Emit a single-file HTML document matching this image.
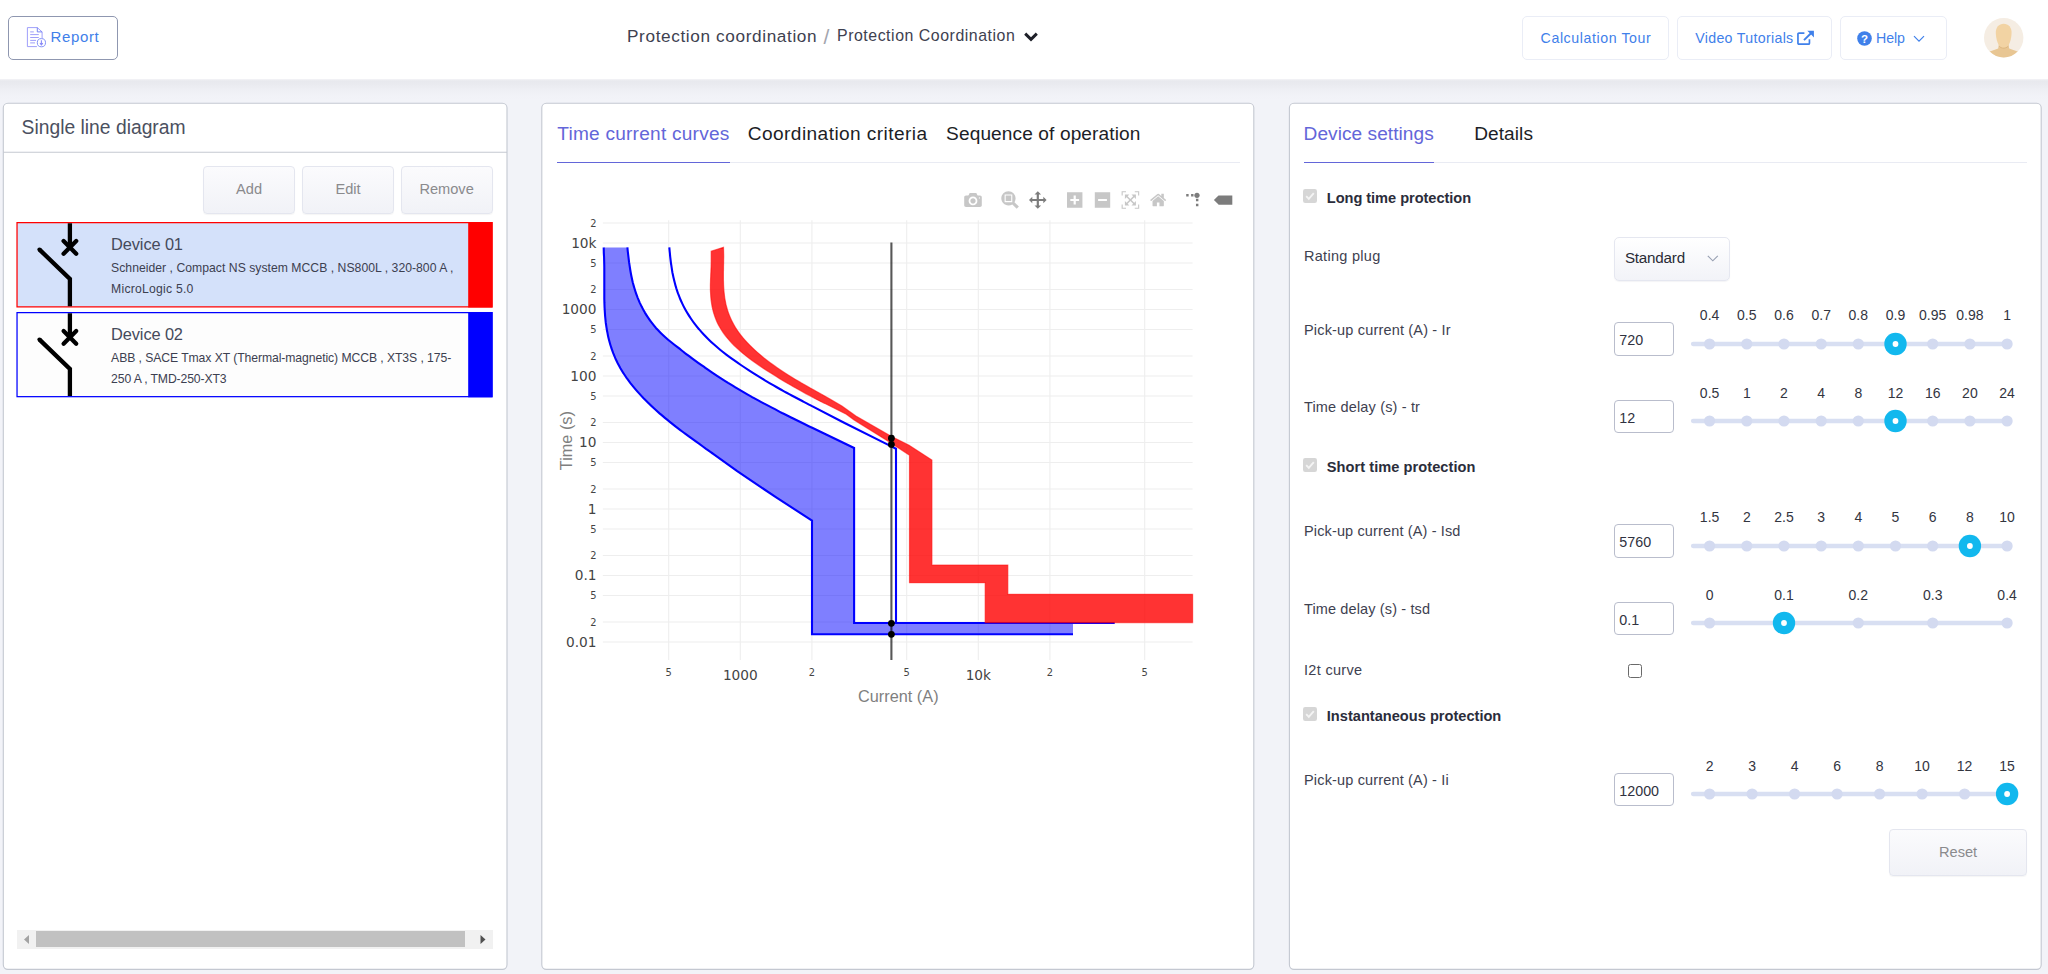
<!DOCTYPE html>
<html lang="en"><head><meta charset="utf-8"><title>Protection coordination</title>
<style>
*{box-sizing:border-box;margin:0;padding:0}
html,body{width:2048px;height:974px;overflow:hidden}
body{position:relative;background:#f2f3f8;font-family:"Liberation Sans",sans-serif;}
.t{position:absolute;white-space:nowrap;line-height:1;}
svg{display:block;overflow:visible}
</style></head>
<body>
<div style="position:absolute;left:0.0px;top:0.0px;width:2048.0px;height:79.2px;background:#fff;"></div>
<div style="position:absolute;left:0.0px;top:79.2px;width:2048.0px;height:20.8px;background:linear-gradient(#f4f4f7 0%,#e8e9ee 9%,#e9eaef 22%,#eeeff4 50%,#f1f2f7 78%,#f2f3f8 100%);"></div>
<div style="position:absolute;left:8.0px;top:16.0px;width:109.5px;height:44.0px;border:1px solid #8f97b0;border-radius:5px;background:#fff;"></div>
<svg style="position:absolute;left:26px;top:26px" width="22" height="22" viewBox="0 0 22 22"><g fill="none" stroke="#9a9afa" stroke-width="0.95"><path d="M10.9 20.6 H1.4 V1.6 H11.3 L16.1 5.9 V12.3"/><path d="M11.3 1.6 V5.9 H16.1" stroke="#6f7df3"/><path d="M4.2 5.9H7.8 M4.2 8.6H12.8 M4.2 11.5H12.8 M4.2 14.4H10 M4.2 16.9H9" stroke="#9a9af9"/><circle cx="15.4" cy="16.7" r="4.1" stroke="#7d8cf6" fill="#fff"/><path d="M15.4 14.3V18.6 M14 17.2L15.4 18.9L16.8 17.2" stroke="#8b8bf8" stroke-width="1.1"/></g></svg>
<span class="t" style="left:50.4px;top:29.0px;font-size:15.0px;color:#3f80ea;letter-spacing:0.674px;">Report</span>
<span class="t" style="left:627.0px;top:28.0px;font-size:17.2px;color:#3e4150;letter-spacing:0.627px;">Protection coordination</span>
<span class="t" style="left:823.6px;top:25.8px;font-size:21px;color:#a3a5ae;">/</span>
<span class="t" style="left:837.0px;top:28.2px;font-size:15.9px;color:#3e4150;letter-spacing:0.533px;">Protection Coordination</span>
<svg style="position:absolute;left:1023px;top:31px" width="16" height="12" viewBox="0 0 16 12"><path d="M2.2 2.6 L8 8.4 L13.8 2.6" fill="none" stroke="#1e2029" stroke-width="2.9"/></svg>
<div style="position:absolute;left:1522.4px;top:16.0px;width:146.4px;height:43.7px;border:1px solid #eaedf6;border-radius:5px;background:#fff;"></div>
<div style="position:absolute;left:1677.4px;top:16.0px;width:154.8px;height:43.7px;border:1px solid #eaedf6;border-radius:5px;background:#fff;"></div>
<div style="position:absolute;left:1840.3px;top:16.0px;width:106.3px;height:43.7px;border:1px solid #eaedf6;border-radius:5px;background:#fff;"></div>
<span class="t" style="left:1540.6px;top:30.5px;font-size:14.2px;color:#3f80ea;letter-spacing:0.581px;">Calculation Tour</span>
<span class="t" style="left:1695.2px;top:30.5px;font-size:14.2px;color:#3f80ea;letter-spacing:0.315px;">Video Tutorials</span>
<svg style="position:absolute;left:1797px;top:29.5px" width="18" height="16" viewBox="0 0 18 16"><g fill="none" stroke="#3f80ea" stroke-width="1.7"><path d="M12.45 9.2V13.15a1 1 0 0 1-1 1H1.95a1 1 0 0 1-1-1V4.05a1 1 0 0 1 1-1H7.4"/><path d="M7 10.1L15.3 2" stroke-width="2"/></g><path d="M10.3 .8H16.9V7.4L14.6 5.1 12.6 3.1Z" fill="#3f80ea"/></svg>
<svg style="position:absolute;left:1857.4px;top:30.9px" width="15" height="15" viewBox="0 0 15 15"><circle cx="7.5" cy="7.5" r="7.3" fill="#3f80ea"/><text x="7.5" y="11.6" text-anchor="middle" font-family="'Liberation Sans',sans-serif" font-weight="700" font-size="11.5" fill="#fff">?</text></svg>
<span class="t" style="left:1876.0px;top:30.5px;font-size:14.2px;color:#3f80ea;letter-spacing:-0.062px;">Help</span>
<svg style="position:absolute;left:1912.5px;top:34.5px" width="12" height="8" viewBox="0 0 12 8"><path d="M1 1.2 L6 6.2 L11 1.2" fill="none" stroke="#3f80ea" stroke-width="1.2"/></svg>
<svg style="position:absolute;left:1983.9px;top:17.7px" width="39.4" height="39.4" viewBox="0 0 39.4 39.4"><defs><clipPath id="avc"><circle cx="19.7" cy="19.7" r="19.7"/></clipPath></defs><circle cx="19.7" cy="19.7" r="19.7" fill="#f5ede3"/><g clip-path="url(#avc)"><path d="M1 35.2L14.2 30.6 14.9 26H24.5L25.2 30.600 38.4 35.2V41H1Z" fill="#e8c693"/><path d="M15.3 28.2c1.300 1.300 2.800 1.900 4.400 1.900s3.100-.6 4.400-1.900" fill="none" stroke="#d9b27c" stroke-width="0.9"/><path d="M19.700 5.700C24.500 5.700 27.800 9.400 27.600 15 27.400 20.400 26.300 24.300 24.500 27.200 23.400 28.700 21.500 29.500 19.700 29.500 17.900 29.500 16 28.700 14.900 27.200 13.100 24.300 12 20.400 11.800 15 11.600 9.400 14.900 5.700 19.700 5.700Z" fill="#f2d3a3"/></g></svg>
<svg style="position:absolute;left:0;top:0" width="2048" height="974" viewBox="0 0 2048 974"><g fill="#fff" stroke="#c4c8d1" stroke-width="1.1"><rect x="3.3" y="103.2" width="503.7" height="866.2" rx="4.6"/><rect x="541.8" y="103.2" width="712.0" height="866.2" rx="4.6"/><rect x="1289.4" y="103.2" width="751.8" height="866.2" rx="4.6"/><path d="M3.3 152.2H507" fill="none"/></g></svg>
<span class="t" style="left:21.6px;top:117.7px;font-size:19.3px;color:#4b5060;">Single line diagram</span>
<div style="position:absolute;left:203.1px;top:166.2px;width:92.0px;height:47.5px;border:1px solid #e4e6ef;border-radius:4px;background:linear-gradient(#fbfbfd,#f1f2f7);box-shadow:0 1px 1px rgba(0,0,0,.04);"></div>
<span class="t" style="left:249.1px;top:182.1px;font-size:14.6px;color:#8a8a8d;transform:translateX(-50%);">Add</span>
<div style="position:absolute;left:302.2px;top:166.2px;width:91.9px;height:47.5px;border:1px solid #e4e6ef;border-radius:4px;background:linear-gradient(#fbfbfd,#f1f2f7);box-shadow:0 1px 1px rgba(0,0,0,.04);"></div>
<span class="t" style="left:348.1px;top:182.1px;font-size:14.6px;color:#8a8a8d;transform:translateX(-50%);">Edit</span>
<div style="position:absolute;left:400.5px;top:166.2px;width:92.1px;height:47.5px;border:1px solid #e4e6ef;border-radius:4px;background:linear-gradient(#fbfbfd,#f1f2f7);box-shadow:0 1px 1px rgba(0,0,0,.04);"></div>
<span class="t" style="left:446.6px;top:182.1px;font-size:14.6px;color:#8a8a8d;transform:translateX(-50%);">Remove</span>
<svg style="position:absolute;left:10px;top:217.9px" width="490" height="93.5" viewBox="10 217.9 490 93.5"><rect x="17.025" y="222.53" width="474.95" height="84.25" fill="#d4e1fa" stroke="#ff0000" stroke-width="1.25"/><rect x="468.2" y="221.90" width="24.40" height="85.50" fill="#ff0000"/><g stroke="#000" stroke-width="4.3" fill="none"><path d="M69.9 223.15 V247.30"/><path stroke-linecap="round" d="M63.60000000000001 241.00 L76.2 253.60 M76.2 241.00 L63.60000000000001 253.60"/><path stroke-linejoin="miter" stroke-miterlimit="10" d="M39.50000000000001 249.50 L69.9 278.90 V306.15"/><circle cx="39.50000000000001" cy="249.50" r="2.15" fill="#000" stroke="none"/></g></svg><span class="t" style="left:111.1px;top:235.7px;font-size:16.4px;color:#454a5b;letter-spacing:-0.124px;">Device 01</span><span class="t" style="left:111.1px;top:261.9px;font-size:12.2px;color:#3c4050;letter-spacing:0.026px;">Schneider , Compact NS system MCCB , NS800L , 320-800 A ,</span><span class="t" style="left:111.1px;top:282.9px;font-size:12.2px;color:#3c4050;letter-spacing:0.226px;">MicroLogic 5.0</span>
<svg style="position:absolute;left:10px;top:307.9px" width="490" height="93.3" viewBox="10 307.9 490 93.3"><rect x="17.025" y="312.52" width="474.95" height="84.05" fill="#fdfdfd" stroke="#0000ff" stroke-width="1.25"/><rect x="468.2" y="311.90" width="24.40" height="85.30" fill="#0000ff"/><g stroke="#000" stroke-width="4.3" fill="none"><path d="M69.9 313.15 V337.30"/><path stroke-linecap="round" d="M63.60000000000001 331.00 L76.2 343.60 M76.2 331.00 L63.60000000000001 343.60"/><path stroke-linejoin="miter" stroke-miterlimit="10" d="M39.50000000000001 339.50 L69.9 368.90 V395.95"/><circle cx="39.50000000000001" cy="339.50" r="2.15" fill="#000" stroke="none"/></g></svg><span class="t" style="left:111.1px;top:325.7px;font-size:16.4px;color:#454a5b;letter-spacing:-0.124px;">Device 02</span><span class="t" style="left:111.1px;top:351.9px;font-size:12.2px;color:#3c4050;letter-spacing:-0.076px;">ABB , SACE Tmax XT (Thermal-magnetic) MCCB , XT3S , 175-</span><span class="t" style="left:111.1px;top:372.9px;font-size:12.2px;color:#3c4050;letter-spacing:-0.125px;">250 A , TMD-250-XT3</span>
<div style="position:absolute;left:17.0px;top:929.8px;width:475.7px;height:19.1px;background:#f1f1f1;"></div>
<div style="position:absolute;left:36.1px;top:931.4px;width:428.8px;height:15.6px;background:#c1c1c1;"></div>
<svg style="position:absolute;left:17px;top:929.8px" width="476" height="19" viewBox="0 0 476 19"><path d="M12 5 L7 9.5 L12 14Z" fill="#a3a3a3"/><path d="M463.5 5 L468.5 9.5 L463.5 14Z" fill="#505050"/></svg>
<span class="t" style="left:557.3px;top:123.7px;font-size:19.1px;color:#6366d9;letter-spacing:0.222px;">Time current curves</span>
<span class="t" style="left:747.8px;top:123.7px;font-size:19.1px;color:#1c1e26;letter-spacing:0.421px;">Coordination criteria</span>
<span class="t" style="left:946.1px;top:123.7px;font-size:19.1px;color:#1c1e26;letter-spacing:0.107px;">Sequence of operation</span>
<div style="position:absolute;left:556.7px;top:162.0px;width:683.3px;height:1.0px;background:#e9ebf3;"></div>
<div style="position:absolute;left:557.0px;top:161.6px;width:172.5px;height:1.4px;background:#6366d9;"></div>
<svg style="position:absolute;left:543px;top:170px" width="710" height="560" viewBox="543 170 710 560"><path d="M602.8 642.0H1192.6M602.8 622.0H1192.6M602.8 595.5H1192.6M602.8 575.5H1192.6M602.8 555.5H1192.6M602.8 529.0H1192.6M602.8 509.0H1192.6M602.8 489.0H1192.6M602.8 462.5H1192.6M602.8 442.5H1192.6M602.8 422.5H1192.6M602.8 396.0H1192.6M602.8 376.0H1192.6M602.8 356.0H1192.6M602.8 329.5H1192.6M602.8 309.5H1192.6M602.8 289.5H1192.6M602.8 263.0H1192.6M602.8 243.0H1192.6M602.8 223.0H1192.6M668.7 220.3V660.0M740.3 220.3V660.0M811.9 220.3V660.0M906.7 220.3V660.0M978.3 220.3V660.0M1049.9 220.3V660.0M1144.7 220.3V660.0" stroke="#eeeeee" stroke-width="1.1" fill="none"/><path d="M603.7 247.6C603.7 248.4 603.8 251.0 603.8 252.6C603.9 254.3 604.0 256.0 604.1 257.7C604.1 259.3 604.2 261.0 604.2 262.7C604.3 264.4 604.3 266.0 604.3 267.7C604.3 269.4 604.3 271.1 604.3 272.7C604.3 274.4 604.3 276.1 604.3 277.8C604.3 279.5 604.3 281.1 604.3 282.8C604.3 284.5 604.3 286.2 604.3 287.8C604.3 289.5 604.3 291.2 604.3 292.9C604.3 294.5 604.3 296.2 604.3 297.9C604.3 299.6 604.4 301.2 604.4 302.9C604.5 304.6 604.5 306.3 604.6 308.0C604.7 309.6 604.8 311.3 604.9 313.0C605.0 314.7 605.1 316.3 605.3 318.0C605.5 319.7 605.6 321.4 605.8 323.0C606.1 324.7 606.3 326.4 606.6 328.1C606.8 329.7 607.1 331.4 607.5 333.1C607.8 334.8 608.1 336.5 608.5 338.1C608.9 339.8 609.4 341.5 609.9 343.2C610.3 344.8 610.9 346.5 611.4 348.2C612.0 349.9 612.6 351.5 613.2 353.2C613.9 354.9 614.6 356.6 615.3 358.2C616.1 359.9 616.9 361.6 617.7 363.3C618.6 364.9 619.5 366.6 620.4 368.3C621.4 370.0 622.4 371.7 623.5 373.3C624.6 375.0 625.7 376.7 626.9 378.4C628.1 380.0 629.3 381.7 630.6 383.4C632.0 385.1 633.3 386.7 634.7 388.4C636.1 390.1 637.6 391.8 639.1 393.4C640.6 395.1 642.2 396.8 643.8 398.5C645.5 400.2 647.2 401.8 648.9 403.5C650.6 405.2 652.4 406.9 654.2 408.5C656.0 410.2 657.9 411.9 659.8 413.6C661.8 415.2 663.7 416.9 665.8 418.6C667.8 420.3 669.9 421.9 672.0 423.6C674.1 425.3 676.2 427.0 678.4 428.7C680.6 430.3 682.8 432.0 685.1 433.7C687.4 435.4 689.6 437.0 692.0 438.7C694.3 440.4 696.6 442.1 699.0 443.7C701.3 445.4 703.7 447.1 706.0 448.8C708.4 450.4 712.0 453.0 713.2 453.8L737.2 471.2L776.2 497.4L812.0 520.6L812.0 634.3L1073.0 634.3L1073.0 623.0L854.1 623.0L854.1 448.0L826.2 434.5L812.7 428.0C810.9 427.2 805.8 424.7 802.4 423.0C798.9 421.3 795.5 419.6 792.2 418.0C788.8 416.3 785.5 414.6 782.1 413.0C778.8 411.3 775.6 409.6 772.4 407.9C769.1 406.3 766.0 404.6 762.8 402.9C759.7 401.2 756.6 399.6 753.6 397.9C750.6 396.2 747.7 394.6 744.8 392.9C741.9 391.2 739.0 389.5 736.3 387.9C733.5 386.2 730.8 384.5 728.1 382.9C725.4 381.2 722.8 379.5 720.2 377.8C717.6 376.2 715.1 374.5 712.6 372.8C710.1 371.1 707.7 369.5 705.3 367.8C702.9 366.1 700.5 364.5 698.2 362.8C695.9 361.1 693.6 359.4 691.4 357.8C689.1 356.1 686.9 354.4 684.7 352.8C682.5 351.1 680.4 349.4 678.2 347.7C676.1 346.1 673.9 344.4 671.9 342.7C669.8 341.0 667.8 339.4 665.9 337.7C664.0 336.0 662.2 334.4 660.5 332.7C658.8 331.0 657.3 329.3 655.8 327.7C654.3 326.0 653.0 324.3 651.7 322.6C650.4 321.0 649.2 319.3 648.1 317.6C647.0 316.0 645.9 314.3 644.9 312.6C644.0 310.9 643.0 309.3 642.2 307.6C641.3 305.9 640.5 304.3 639.7 302.6C639.0 300.9 638.3 299.2 637.6 297.6C637.0 295.9 636.3 294.2 635.8 292.6C635.2 290.9 634.7 289.2 634.2 287.5C633.7 285.9 633.3 284.2 632.8 282.5C632.4 280.8 632.0 279.2 631.7 277.5C631.3 275.8 631.0 274.2 630.7 272.5C630.4 270.8 630.1 269.1 629.9 267.5C629.6 265.8 629.4 264.1 629.1 262.4C628.9 260.8 628.7 259.1 628.5 257.4C628.3 255.8 628.1 254.1 627.9 252.4C627.7 250.7 627.5 248.2 627.4 247.4Z" fill="rgba(0,0,255,0.5)" stroke="none"/><path d="M603.7 247.6C603.7 248.4 603.8 251.0 603.8 252.6C603.9 254.3 604.0 256.0 604.1 257.7C604.1 259.3 604.2 261.0 604.2 262.7C604.3 264.4 604.3 266.0 604.3 267.7C604.3 269.4 604.3 271.1 604.3 272.7C604.3 274.4 604.3 276.1 604.3 277.8C604.3 279.5 604.3 281.1 604.3 282.8C604.3 284.5 604.3 286.2 604.3 287.8C604.3 289.5 604.3 291.2 604.3 292.9C604.3 294.5 604.3 296.2 604.3 297.9C604.3 299.6 604.4 301.2 604.4 302.9C604.5 304.6 604.5 306.3 604.6 308.0C604.7 309.6 604.8 311.3 604.9 313.0C605.0 314.7 605.1 316.3 605.3 318.0C605.5 319.7 605.6 321.4 605.8 323.0C606.1 324.7 606.3 326.4 606.6 328.1C606.8 329.7 607.1 331.4 607.5 333.1C607.8 334.8 608.1 336.5 608.5 338.1C608.9 339.8 609.4 341.5 609.9 343.2C610.3 344.8 610.9 346.5 611.4 348.2C612.0 349.9 612.6 351.5 613.2 353.2C613.9 354.9 614.6 356.6 615.3 358.2C616.1 359.9 616.9 361.6 617.7 363.3C618.6 364.9 619.5 366.6 620.4 368.3C621.4 370.0 622.4 371.7 623.5 373.3C624.6 375.0 625.7 376.7 626.9 378.4C628.1 380.0 629.3 381.7 630.6 383.4C632.0 385.1 633.3 386.7 634.7 388.4C636.1 390.1 637.6 391.8 639.1 393.4C640.6 395.1 642.2 396.8 643.8 398.5C645.5 400.2 647.2 401.8 648.9 403.5C650.6 405.2 652.4 406.9 654.2 408.5C656.0 410.2 657.9 411.9 659.8 413.6C661.8 415.2 663.7 416.9 665.8 418.6C667.8 420.3 669.9 421.9 672.0 423.6C674.1 425.3 676.2 427.0 678.4 428.7C680.6 430.3 682.8 432.0 685.1 433.7C687.4 435.4 689.6 437.0 692.0 438.7C694.3 440.4 696.6 442.1 699.0 443.7C701.3 445.4 703.7 447.1 706.0 448.8C708.4 450.4 712.0 453.0 713.2 453.8L737.2 471.2L776.2 497.4L812.0 520.6L812.0 634.3L1073.0 634.3" fill="none" stroke="#0000ff" stroke-width="2.1" stroke-linejoin="miter"/><path d="M627.4 247.4C627.5 248.2 627.7 250.7 627.9 252.4C628.1 254.1 628.3 255.8 628.5 257.4C628.7 259.1 628.9 260.8 629.1 262.4C629.4 264.1 629.6 265.8 629.9 267.5C630.1 269.1 630.4 270.8 630.7 272.5C631.0 274.2 631.3 275.8 631.7 277.5C632.0 279.2 632.4 280.8 632.8 282.5C633.3 284.2 633.7 285.9 634.2 287.5C634.7 289.2 635.2 290.9 635.8 292.6C636.3 294.2 637.0 295.9 637.6 297.6C638.3 299.2 639.0 300.9 639.7 302.6C640.5 304.3 641.3 305.9 642.2 307.6C643.0 309.3 644.0 310.9 644.9 312.6C645.9 314.3 647.0 316.0 648.1 317.6C649.2 319.3 650.4 321.0 651.7 322.6C653.0 324.3 654.3 326.0 655.8 327.7C657.3 329.3 658.8 331.0 660.5 332.7C662.2 334.4 664.0 336.0 665.9 337.7C667.8 339.4 669.8 341.0 671.9 342.7C673.9 344.4 676.1 346.1 678.2 347.7C680.4 349.4 682.5 351.1 684.7 352.8C686.9 354.4 689.1 356.1 691.4 357.8C693.6 359.4 695.9 361.1 698.2 362.8C700.5 364.5 702.9 366.1 705.3 367.8C707.7 369.5 710.1 371.1 712.6 372.8C715.1 374.5 717.6 376.2 720.2 377.8C722.8 379.5 725.4 381.2 728.1 382.9C730.8 384.5 733.5 386.2 736.3 387.9C739.0 389.5 741.9 391.2 744.8 392.9C747.7 394.6 750.6 396.2 753.6 397.9C756.6 399.6 759.7 401.2 762.8 402.9C766.0 404.6 769.1 406.3 772.4 407.9C775.6 409.6 778.8 411.3 782.1 413.0C785.5 414.6 788.8 416.3 792.2 418.0C795.5 419.6 798.9 421.3 802.4 423.0C805.8 424.7 810.9 427.2 812.7 428.0L826.2 434.5L854.1 448.0L854.1 623.0L1073.0 623.0" fill="none" stroke="#0000ff" stroke-width="2.1"/><path d="M669.3 247.4C669.4 248.3 669.6 250.8 669.8 252.5C670.0 254.2 670.1 255.9 670.3 257.6C670.5 259.3 670.7 261.0 670.9 262.7C671.2 264.4 671.4 266.1 671.7 267.9C671.9 269.6 672.2 271.3 672.5 273.0C672.9 274.7 673.2 276.4 673.6 278.1C674.0 279.8 674.4 281.5 674.9 283.2C675.3 284.9 675.8 286.6 676.3 288.3C676.9 290.0 677.4 291.7 678.0 293.4C678.7 295.1 679.3 296.8 680.0 298.5C680.7 300.2 681.5 301.9 682.3 303.6C683.1 305.3 684.0 307.1 684.9 308.8C685.8 310.5 686.8 312.2 687.9 313.9C688.9 315.6 690.0 317.3 691.2 319.0C692.3 320.7 693.6 322.4 694.9 324.1C696.2 325.8 697.5 327.5 699.0 329.2C700.4 330.9 701.9 332.6 703.5 334.3C705.1 336.0 706.8 337.7 708.6 339.4C710.3 341.1 712.1 342.8 714.1 344.5C716.0 346.2 718.0 348.0 720.1 349.7C722.2 351.4 724.4 353.1 726.6 354.8C728.9 356.5 731.2 358.2 733.6 359.9C736.0 361.6 738.4 363.3 740.9 365.0C743.4 366.7 746.0 368.4 748.6 370.1C751.2 371.8 753.8 373.5 756.5 375.2C759.2 376.9 762.0 378.6 764.9 380.3C767.7 382.0 770.6 383.7 773.6 385.4C776.6 387.2 779.7 388.9 782.7 390.6C785.8 392.3 789.0 394.0 792.2 395.7C795.4 397.4 798.6 399.1 801.8 400.8C805.1 402.5 810.0 405.0 811.6 405.9L843.6 422.5L887.3 444.4L896.0 448.7L896.0 623.0L1114.7 623.0" fill="none" stroke="#0000ff" stroke-width="2.1"/><path d="M723.5 247.3C723.5 248.1 723.6 250.6 723.6 252.3C723.7 254.0 723.7 255.7 723.7 257.3C723.6 259.0 723.6 260.7 723.6 262.4C723.6 264.0 723.5 265.7 723.5 267.4C723.5 269.0 723.5 270.7 723.4 272.4C723.4 274.1 723.4 275.7 723.4 277.4C723.4 279.1 723.4 280.7 723.5 282.4C723.5 284.1 723.6 285.8 723.7 287.4C723.8 289.1 723.9 290.8 724.1 292.4C724.3 294.1 724.5 295.8 724.7 297.5C725.0 299.1 725.2 300.8 725.6 302.5C725.9 304.2 726.3 305.8 726.8 307.5C727.2 309.2 727.7 310.8 728.3 312.5C728.9 314.2 729.6 315.9 730.3 317.5C731.0 319.2 731.8 320.9 732.7 322.6C733.5 324.2 734.5 325.9 735.5 327.6C736.6 329.2 737.7 330.9 738.9 332.6C740.1 334.3 741.4 335.9 742.8 337.6C744.2 339.3 745.7 340.9 747.3 342.6C748.9 344.3 750.5 346.0 752.3 347.6C754.0 349.3 755.8 351.0 757.7 352.6C759.7 354.3 761.7 356.0 763.7 357.7C765.8 359.3 768.0 361.0 770.2 362.7C772.5 364.4 774.8 366.0 777.2 367.7C779.7 369.4 782.1 371.0 784.7 372.7C787.3 374.4 790.0 376.1 792.7 377.7C795.4 379.4 798.3 381.1 801.1 382.8C804.0 384.4 807.0 386.1 809.9 387.8C812.9 389.4 815.9 391.1 818.9 392.8C821.9 394.5 826.3 397.0 827.8 397.8L841.9 405.9L855.9 416.0L891.6 436.5L909.1 445.2L931.9 460.1L931.9 565.0L1007.8 565.0L1007.8 594.3L1192.6 594.3L1192.6 622.6L985.2 622.6L985.2 582.7L909.5 582.7L909.5 455.3L889.0 441.7L854.1 419.9L846.3 414.2L825.5 403.8C823.8 403.0 818.6 400.4 815.3 398.7C812.1 397.0 808.9 395.3 805.7 393.6C802.6 391.9 799.6 390.2 796.6 388.5C793.6 386.8 790.7 385.1 787.8 383.5C784.9 381.8 782.1 380.1 779.3 378.4C776.5 376.7 773.8 375.0 771.1 373.3C768.4 371.6 765.7 369.9 763.1 368.2C760.6 366.5 758.0 364.8 755.6 363.1C753.2 361.4 750.9 359.7 748.7 358.0C746.4 356.3 744.3 354.6 742.3 352.9C740.3 351.2 738.4 349.5 736.6 347.8C734.8 346.2 733.0 344.5 731.5 342.8C729.9 341.1 728.4 339.4 727.0 337.7C725.6 336.0 724.3 334.3 723.1 332.6C721.9 330.9 720.9 329.2 719.9 327.5C718.9 325.8 718.0 324.1 717.2 322.4C716.4 320.7 715.7 319.0 715.1 317.3C714.5 315.6 713.9 313.9 713.4 312.2C713.0 310.5 712.6 308.8 712.2 307.2C711.9 305.5 711.6 303.8 711.4 302.1C711.1 300.4 710.9 298.7 710.8 297.0C710.7 295.3 710.6 293.6 710.5 291.9C710.4 290.2 710.4 288.5 710.4 286.8C710.4 285.1 710.4 283.4 710.5 281.7C710.5 280.0 710.6 278.3 710.7 276.6C710.7 274.9 710.8 273.2 710.9 271.5C710.9 269.9 711.0 268.2 711.1 266.5C711.1 264.8 711.2 263.1 711.2 261.4C711.2 259.7 711.2 258.0 711.2 256.3C711.2 254.6 711.2 252.0 711.2 251.2Z" fill="rgba(255,0,0,0.8)" stroke="rgba(255,0,0,0.55)" stroke-width="1.2"/><path d="M891.4 242.4V660" stroke="rgba(0,0,0,0.66)" stroke-width="2.1"/><circle cx="891.4" cy="438.2" r="3.4" fill="#000"/><circle cx="891.4" cy="444.4" r="3.4" fill="#000"/><circle cx="891.4" cy="623.3" r="3.4" fill="#000"/><circle cx="891.4" cy="634.3" r="3.4" fill="#000"/><text x="596.5" y="247.8" text-anchor="end" font-family="'DejaVu Sans','Liberation Sans',sans-serif" font-size="13.7" fill="#444">10k</text><text x="596.5" y="314.3" text-anchor="end" font-family="'DejaVu Sans','Liberation Sans',sans-serif" font-size="13.7" fill="#444">1000</text><text x="596.5" y="380.8" text-anchor="end" font-family="'DejaVu Sans','Liberation Sans',sans-serif" font-size="13.7" fill="#444">100</text><text x="596.5" y="447.3" text-anchor="end" font-family="'DejaVu Sans','Liberation Sans',sans-serif" font-size="13.7" fill="#444">10</text><text x="596.5" y="513.8" text-anchor="end" font-family="'DejaVu Sans','Liberation Sans',sans-serif" font-size="13.7" fill="#444">1</text><text x="596.5" y="580.3" text-anchor="end" font-family="'DejaVu Sans','Liberation Sans',sans-serif" font-size="13.7" fill="#444">0.1</text><text x="596.5" y="646.8" text-anchor="end" font-family="'DejaVu Sans','Liberation Sans',sans-serif" font-size="13.7" fill="#444">0.01</text><text x="596.5" y="625.6" text-anchor="end" font-family="'DejaVu Sans','Liberation Sans',sans-serif" font-size="9.9" fill="#444">2</text><text x="596.5" y="599.1" text-anchor="end" font-family="'DejaVu Sans','Liberation Sans',sans-serif" font-size="9.9" fill="#444">5</text><text x="596.5" y="559.1" text-anchor="end" font-family="'DejaVu Sans','Liberation Sans',sans-serif" font-size="9.9" fill="#444">2</text><text x="596.5" y="532.6" text-anchor="end" font-family="'DejaVu Sans','Liberation Sans',sans-serif" font-size="9.9" fill="#444">5</text><text x="596.5" y="492.6" text-anchor="end" font-family="'DejaVu Sans','Liberation Sans',sans-serif" font-size="9.9" fill="#444">2</text><text x="596.5" y="466.1" text-anchor="end" font-family="'DejaVu Sans','Liberation Sans',sans-serif" font-size="9.9" fill="#444">5</text><text x="596.5" y="426.1" text-anchor="end" font-family="'DejaVu Sans','Liberation Sans',sans-serif" font-size="9.9" fill="#444">2</text><text x="596.5" y="399.6" text-anchor="end" font-family="'DejaVu Sans','Liberation Sans',sans-serif" font-size="9.9" fill="#444">5</text><text x="596.5" y="359.6" text-anchor="end" font-family="'DejaVu Sans','Liberation Sans',sans-serif" font-size="9.9" fill="#444">2</text><text x="596.5" y="333.1" text-anchor="end" font-family="'DejaVu Sans','Liberation Sans',sans-serif" font-size="9.9" fill="#444">5</text><text x="596.5" y="293.1" text-anchor="end" font-family="'DejaVu Sans','Liberation Sans',sans-serif" font-size="9.9" fill="#444">2</text><text x="596.5" y="266.6" text-anchor="end" font-family="'DejaVu Sans','Liberation Sans',sans-serif" font-size="9.9" fill="#444">5</text><text x="596.5" y="226.6" text-anchor="end" font-family="'DejaVu Sans','Liberation Sans',sans-serif" font-size="9.9" fill="#444">2</text><text x="740.3" y="680" text-anchor="middle" font-family="'DejaVu Sans','Liberation Sans',sans-serif" font-size="13.7" fill="#444">1000</text><text x="978.3" y="680" text-anchor="middle" font-family="'DejaVu Sans','Liberation Sans',sans-serif" font-size="13.7" fill="#444">10k</text><text x="668.7" y="676.4" text-anchor="middle" font-family="'DejaVu Sans','Liberation Sans',sans-serif" font-size="9.9" fill="#444">5</text><text x="811.9" y="676.4" text-anchor="middle" font-family="'DejaVu Sans','Liberation Sans',sans-serif" font-size="9.9" fill="#444">2</text><text x="906.7" y="676.4" text-anchor="middle" font-family="'DejaVu Sans','Liberation Sans',sans-serif" font-size="9.9" fill="#444">5</text><text x="1049.9" y="676.4" text-anchor="middle" font-family="'DejaVu Sans','Liberation Sans',sans-serif" font-size="9.9" fill="#444">2</text><text x="1144.7" y="676.4" text-anchor="middle" font-family="'DejaVu Sans','Liberation Sans',sans-serif" font-size="9.9" fill="#444">5</text><text x="898.3" y="702" text-anchor="middle" font-family="'Liberation Sans',sans-serif" font-size="16.3" fill="#7f7f7f">Current (A)</text><text transform="translate(571.9,440.6) rotate(-90)" text-anchor="middle" font-family="'Liberation Sans',sans-serif" font-size="16.3" fill="#7f7f7f">Time (s)</text><path transform="translate(964.20,191.20) scale(0.01760,-0.01760) translate(0,-850)" d="m500 450c-83 0-150-67-150-150 0-83 67-150 150-150 83 0 150 67 150 150 0 83-67 150-150 150z m400 150h-120c-16 0-34 13-39 29l-31 93c-6 15-23 28-40 28h-340c-16 0-34-13-39-28l-31-94c-6-15-23-28-40-28h-120c-55 0-100-45-100-100v-450c0-55 45-100 100-100h800c55 0 100 45 100 100v450c0 55-45 100-100 100z m-400-550c-138 0-250 112-250 250 0 138 112 250 250 250 138 0 250-112 250-250 0-138-112-250-250-250z m365 380c-19 0-35 16-35 35 0 19 16 35 35 35 19 0 35-16 35-35 0-19-16-35-35-35z" fill="rgba(68,68,68,0.3)"/><path transform="translate(1001.30,191.20) scale(0.01760,-0.01760) translate(0,-850)" d="m1000-25l-250 251c40 63 63 138 63 218 0 224-182 406-407 406-224 0-406-182-406-406s183-406 407-406c80 0 155 22 218 62l250-250 125 125z m-812 250l0 438 437 0 0-438-437 0z m62 375l313 0 0-312-313 0 0 312z" fill="rgba(68,68,68,0.3)"/><path transform="translate(1029.00,191.20) scale(0.01760,-0.01760) translate(0,-850)" d="m1000 350l-187 188 0-125-250 0 0 250 125 0-188 187-187-187 125 0 0-250-250 0 0 125-188-188 186-187 0 125 252 0 0-250-125 0 187-188 188 188-125 0 0 250 250 0 0-126 187 188z" fill="rgba(68,68,68,0.7)"/><path transform="translate(1067.00,191.20) scale(0.01760,-0.01760) translate(0,-850)" d="m1 787l0-875 875 0 0 875-875 0z m687-500l-187 0 0-187-125 0 0 187-188 0 0 125 188 0 0 187 125 0 0-187 187 0 0-125z" fill="rgba(68,68,68,0.3)"/><path transform="translate(1094.80,191.20) scale(0.01760,-0.01760) translate(0,-850)" d="m0 788l0-876 875 0 0 876-875 0z m688-500l-500 0 0 125 500 0 0-125z" fill="rgba(68,68,68,0.3)"/><path transform="translate(1121.60,191.20) scale(0.01760,-0.01760) translate(0,-850)" d="m250 850l-187 0-63 0 0-62 0-188 63 0 0 188 187 0 0 62z m688 0l-188 0 0-62 188 0 0-188 62 0 0 188 0 62-62 0z m-875-938l0 188-63 0 0-188 0-62 63 0 187 0 0 62-187 0z m875 188l0-188-188 0 0-62 188 0 62 0 0 62 0 188-62 0z m-125 188l-1 0-93-94-156 156 156 156 92-93 2 0 0 250-250 0 0-2 93-92-156-156-156 156 94 92 0 2-250 0 0-250 0 0 93 93 157-156-157-156-93 94 0 0 0-250 250 0 0 0-94 93 156 157 156-157-93-93 0 0 250 0 0 250z" fill="rgba(68,68,68,0.3)"/><path transform="translate(1150.00,191.20) scale(0.01760,-0.01760) translate(0,-850)" d="m786 296v-267q0-15-11-26t-25-10h-214v214h-143v-214h-214q-15 0-25 10t-11 26v267q0 1 0 2t0 2l321 264 321-264q1-1 1-4z m124 39l-34-41q-5-5-12-6h-2q-7 0-12 3l-386 322-386-322q-7-4-13-4-7 2-12 7l-35 41q-4 5-3 13t6 12l401 334q18 15 42 15t43-15l136-114v109q0 8 5 13t13 5h107q8 0 13-5t5-13v-227l122-102q5-5 6-12t-4-13z" fill="rgba(68,68,68,0.3)"/><path transform="translate(1186.2,191.20) scale(0.02640,-0.02640) translate(0,-566.7)" d="M512 409c0-57-46-104-103-104-57 0-104 47-104 104 0 57 47 103 104 103 57 0 103-46 103-103z m-327-39l92 0 0 92-92 0z m-185 0l92 0 0 92-92 0z m370-186l92 0 0 93-92 0z m0-184l92 0 0 92-92 0z" fill="rgba(68,68,68,0.7)"/><path transform="translate(1213.90,193.90) scale(0.01227,-0.01227) translate(0,-850)" d="m375 725l0 0-375-375 375-374 0-1 1125 0 0 750-1125 0z" fill="rgba(68,68,68,0.7)"/></svg>
<span class="t" style="left:1303.6px;top:123.7px;font-size:19.1px;color:#6366d9;letter-spacing:0.044px;">Device settings</span>
<span class="t" style="left:1474.2px;top:123.7px;font-size:19.1px;color:#1c1e26;letter-spacing:0.071px;">Details</span>
<div style="position:absolute;left:1303.6px;top:162.0px;width:723.7px;height:1.0px;background:#e9ebf3;"></div>
<div style="position:absolute;left:1303.6px;top:161.6px;width:130.1px;height:1.4px;background:#6366d9;"></div>
<svg style="position:absolute;left:1303.4px;top:188.9px" width="14" height="14" viewBox="0 0 14 14"><rect x="0" y="0" width="14" height="14" rx="2.2" fill="#d6d6d6"/><path d="M3.2 7.2 L5.8 9.8 L10.8 4.2" stroke="#f4f4f4" stroke-width="1.9" fill="none"/></svg><span class="t" style="left:1326.8px;top:191.4px;font-size:14.6px;color:#2b2d3b;font-weight:700;letter-spacing:-0.043px;">Long time protection</span>
<svg style="position:absolute;left:1303.4px;top:457.90000000000003px" width="14" height="14" viewBox="0 0 14 14"><rect x="0" y="0" width="14" height="14" rx="2.2" fill="#d6d6d6"/><path d="M3.2 7.2 L5.8 9.8 L10.8 4.2" stroke="#f4f4f4" stroke-width="1.9" fill="none"/></svg><span class="t" style="left:1326.8px;top:460.4px;font-size:14.6px;color:#2b2d3b;font-weight:700;letter-spacing:0.052px;">Short time protection</span>
<svg style="position:absolute;left:1303.4px;top:706.9px" width="14" height="14" viewBox="0 0 14 14"><rect x="0" y="0" width="14" height="14" rx="2.2" fill="#d6d6d6"/><path d="M3.2 7.2 L5.8 9.8 L10.8 4.2" stroke="#f4f4f4" stroke-width="1.9" fill="none"/></svg><span class="t" style="left:1326.8px;top:709.4px;font-size:14.6px;color:#2b2d3b;font-weight:700;letter-spacing:0.007px;">Instantaneous protection</span>
<span class="t" style="left:1304.0px;top:248.8px;font-size:14.5px;color:#3e4150;letter-spacing:0.284px;">Rating plug</span>
<div style="position:absolute;left:1614.3px;top:237.2px;width:115.4px;height:44.0px;border:1px solid #e5e7f0;border-radius:5px;background:linear-gradient(#ffffff,#f2f3f8);box-shadow:0 1px 1px rgba(60,70,110,.06);"></div>
<span class="t" style="left:1624.9px;top:250.0px;font-size:15.2px;color:#2a2c36;letter-spacing:-0.206px;">Standard</span>
<svg style="position:absolute;left:1706.6px;top:255.3px" width="11.6" height="7" viewBox="0 0 11.6 7"><path d="M.8 .8 L5.8 5.800 L10.8 .8" fill="none" stroke="#98a0b2" stroke-width="1.15"/></svg>
<span class="t" style="left:1304.0px;top:322.5px;font-size:14.5px;color:#3e4150;letter-spacing:0.174px;">Pick-up current (A) - Ir</span><div style="position:absolute;left:1614.2px;top:322.3px;width:59.5px;height:33.9px;border:1px solid #b9bdcc;border-radius:4px;background:#fff;"></div><span class="t" style="left:1619.3px;top:333.4px;font-size:14.3px;color:#2f3240;">720</span><svg style="position:absolute;left:1685px;top:329.8px" width="340" height="28" viewBox="1685 329.8 340 28"><rect x="1690.9" y="341.65" width="316.2" height="4.3" rx="2.15" fill="#d8dff2"/><circle cx="1709.6" cy="343.8" r="5.6" fill="#d3daf0"/><circle cx="1746.8" cy="343.8" r="5.6" fill="#d3daf0"/><circle cx="1784.0" cy="343.8" r="5.6" fill="#d3daf0"/><circle cx="1821.2" cy="343.8" r="5.6" fill="#d3daf0"/><circle cx="1858.3" cy="343.8" r="5.6" fill="#d3daf0"/><circle cx="1895.5" cy="343.8" r="5.6" fill="#d3daf0"/><circle cx="1932.7" cy="343.8" r="5.6" fill="#d3daf0"/><circle cx="1969.9" cy="343.8" r="5.6" fill="#d3daf0"/><circle cx="2007.1" cy="343.8" r="5.6" fill="#d3daf0"/><circle cx="1895.5" cy="343.8" r="11.2" fill="#12b8ee"/><circle cx="1895.5" cy="343.8" r="2.9" fill="#fff"/></svg><span class="t" style="left:1709.6px;top:308.4px;font-size:14px;color:#33353f;transform:translateX(-50%);">0.4</span><span class="t" style="left:1746.8px;top:308.4px;font-size:14px;color:#33353f;transform:translateX(-50%);">0.5</span><span class="t" style="left:1784.0px;top:308.4px;font-size:14px;color:#33353f;transform:translateX(-50%);">0.6</span><span class="t" style="left:1821.2px;top:308.4px;font-size:14px;color:#33353f;transform:translateX(-50%);">0.7</span><span class="t" style="left:1858.3px;top:308.4px;font-size:14px;color:#33353f;transform:translateX(-50%);">0.8</span><span class="t" style="left:1895.5px;top:308.4px;font-size:14px;color:#33353f;transform:translateX(-50%);">0.9</span><span class="t" style="left:1932.7px;top:308.4px;font-size:14px;color:#33353f;transform:translateX(-50%);">0.95</span><span class="t" style="left:1969.9px;top:308.4px;font-size:14px;color:#33353f;transform:translateX(-50%);">0.98</span><span class="t" style="left:2007.1px;top:308.4px;font-size:14px;color:#33353f;transform:translateX(-50%);">1</span>
<span class="t" style="left:1304.0px;top:399.8px;font-size:14.5px;color:#3e4150;letter-spacing:0.158px;">Time delay (s) - tr</span><div style="position:absolute;left:1614.2px;top:399.6px;width:59.5px;height:33.9px;border:1px solid #b9bdcc;border-radius:4px;background:#fff;"></div><span class="t" style="left:1619.3px;top:410.7px;font-size:14.3px;color:#2f3240;">12</span><svg style="position:absolute;left:1685px;top:407.1px" width="340" height="28" viewBox="1685 407.1 340 28"><rect x="1690.9" y="418.95" width="316.2" height="4.3" rx="2.15" fill="#d8dff2"/><circle cx="1709.6" cy="421.1" r="5.6" fill="#d3daf0"/><circle cx="1746.8" cy="421.1" r="5.6" fill="#d3daf0"/><circle cx="1784.0" cy="421.1" r="5.6" fill="#d3daf0"/><circle cx="1821.2" cy="421.1" r="5.6" fill="#d3daf0"/><circle cx="1858.3" cy="421.1" r="5.6" fill="#d3daf0"/><circle cx="1895.5" cy="421.1" r="5.6" fill="#d3daf0"/><circle cx="1932.7" cy="421.1" r="5.6" fill="#d3daf0"/><circle cx="1969.9" cy="421.1" r="5.6" fill="#d3daf0"/><circle cx="2007.1" cy="421.1" r="5.6" fill="#d3daf0"/><circle cx="1895.5" cy="421.1" r="11.2" fill="#12b8ee"/><circle cx="1895.5" cy="421.1" r="2.9" fill="#fff"/></svg><span class="t" style="left:1709.6px;top:385.7px;font-size:14px;color:#33353f;transform:translateX(-50%);">0.5</span><span class="t" style="left:1746.8px;top:385.7px;font-size:14px;color:#33353f;transform:translateX(-50%);">1</span><span class="t" style="left:1784.0px;top:385.7px;font-size:14px;color:#33353f;transform:translateX(-50%);">2</span><span class="t" style="left:1821.2px;top:385.7px;font-size:14px;color:#33353f;transform:translateX(-50%);">4</span><span class="t" style="left:1858.3px;top:385.7px;font-size:14px;color:#33353f;transform:translateX(-50%);">8</span><span class="t" style="left:1895.5px;top:385.7px;font-size:14px;color:#33353f;transform:translateX(-50%);">12</span><span class="t" style="left:1932.7px;top:385.7px;font-size:14px;color:#33353f;transform:translateX(-50%);">16</span><span class="t" style="left:1969.9px;top:385.7px;font-size:14px;color:#33353f;transform:translateX(-50%);">20</span><span class="t" style="left:2007.1px;top:385.7px;font-size:14px;color:#33353f;transform:translateX(-50%);">24</span>
<span class="t" style="left:1304.0px;top:524.2px;font-size:14.5px;color:#3e4150;letter-spacing:0.138px;">Pick-up current (A) - Isd</span><div style="position:absolute;left:1614.2px;top:524.0px;width:59.5px;height:33.9px;border:1px solid #b9bdcc;border-radius:4px;background:#fff;"></div><span class="t" style="left:1619.3px;top:535.1px;font-size:14.3px;color:#2f3240;">5760</span><svg style="position:absolute;left:1685px;top:531.5px" width="340" height="28" viewBox="1685 531.5 340 28"><rect x="1690.9" y="543.35" width="316.2" height="4.3" rx="2.15" fill="#d8dff2"/><circle cx="1709.6" cy="545.5" r="5.6" fill="#d3daf0"/><circle cx="1746.8" cy="545.5" r="5.6" fill="#d3daf0"/><circle cx="1784.0" cy="545.5" r="5.6" fill="#d3daf0"/><circle cx="1821.2" cy="545.5" r="5.6" fill="#d3daf0"/><circle cx="1858.3" cy="545.5" r="5.6" fill="#d3daf0"/><circle cx="1895.5" cy="545.5" r="5.6" fill="#d3daf0"/><circle cx="1932.7" cy="545.5" r="5.6" fill="#d3daf0"/><circle cx="1969.9" cy="545.5" r="5.6" fill="#d3daf0"/><circle cx="2007.1" cy="545.5" r="5.6" fill="#d3daf0"/><circle cx="1969.9" cy="545.5" r="11.2" fill="#12b8ee"/><circle cx="1969.9" cy="545.5" r="2.9" fill="#fff"/></svg><span class="t" style="left:1709.6px;top:510.1px;font-size:14px;color:#33353f;transform:translateX(-50%);">1.5</span><span class="t" style="left:1746.8px;top:510.1px;font-size:14px;color:#33353f;transform:translateX(-50%);">2</span><span class="t" style="left:1784.0px;top:510.1px;font-size:14px;color:#33353f;transform:translateX(-50%);">2.5</span><span class="t" style="left:1821.2px;top:510.1px;font-size:14px;color:#33353f;transform:translateX(-50%);">3</span><span class="t" style="left:1858.3px;top:510.1px;font-size:14px;color:#33353f;transform:translateX(-50%);">4</span><span class="t" style="left:1895.5px;top:510.1px;font-size:14px;color:#33353f;transform:translateX(-50%);">5</span><span class="t" style="left:1932.7px;top:510.1px;font-size:14px;color:#33353f;transform:translateX(-50%);">6</span><span class="t" style="left:1969.9px;top:510.1px;font-size:14px;color:#33353f;transform:translateX(-50%);">8</span><span class="t" style="left:2007.1px;top:510.1px;font-size:14px;color:#33353f;transform:translateX(-50%);">10</span>
<span class="t" style="left:1304.0px;top:601.7px;font-size:14.5px;color:#3e4150;letter-spacing:0.129px;">Time delay (s) - tsd</span><div style="position:absolute;left:1614.2px;top:601.5px;width:59.5px;height:33.9px;border:1px solid #b9bdcc;border-radius:4px;background:#fff;"></div><span class="t" style="left:1619.3px;top:612.6px;font-size:14.3px;color:#2f3240;">0.1</span><svg style="position:absolute;left:1685px;top:609.0px" width="340" height="28" viewBox="1685 609.0 340 28"><rect x="1690.9" y="620.85" width="316.2" height="4.3" rx="2.15" fill="#d8dff2"/><circle cx="1709.6" cy="623.0" r="5.6" fill="#d3daf0"/><circle cx="1784.0" cy="623.0" r="5.6" fill="#d3daf0"/><circle cx="1858.3" cy="623.0" r="5.6" fill="#d3daf0"/><circle cx="1932.7" cy="623.0" r="5.6" fill="#d3daf0"/><circle cx="2007.1" cy="623.0" r="5.6" fill="#d3daf0"/><circle cx="1784.0" cy="623.0" r="11.2" fill="#12b8ee"/><circle cx="1784.0" cy="623.0" r="2.9" fill="#fff"/></svg><span class="t" style="left:1709.6px;top:587.6px;font-size:14px;color:#33353f;transform:translateX(-50%);">0</span><span class="t" style="left:1784.0px;top:587.6px;font-size:14px;color:#33353f;transform:translateX(-50%);">0.1</span><span class="t" style="left:1858.3px;top:587.6px;font-size:14px;color:#33353f;transform:translateX(-50%);">0.2</span><span class="t" style="left:1932.7px;top:587.6px;font-size:14px;color:#33353f;transform:translateX(-50%);">0.3</span><span class="t" style="left:2007.1px;top:587.6px;font-size:14px;color:#33353f;transform:translateX(-50%);">0.4</span>
<span class="t" style="left:1304.0px;top:662.7px;font-size:14.5px;color:#3e4150;letter-spacing:0.311px;">I2t curve</span>
<div style="position:absolute;left:1627.5px;top:663.5px;width:14.0px;height:14.0px;border:1.3px solid #6a6a6a;border-radius:2.5px;background:#fff;"></div>
<span class="t" style="left:1304.0px;top:772.7px;font-size:14.5px;color:#3e4150;letter-spacing:0.161px;">Pick-up current (A) - Ii</span><div style="position:absolute;left:1614.2px;top:772.5px;width:59.5px;height:33.9px;border:1px solid #b9bdcc;border-radius:4px;background:#fff;"></div><span class="t" style="left:1619.3px;top:783.6px;font-size:14.3px;color:#2f3240;">12000</span><svg style="position:absolute;left:1685px;top:780.0px" width="340" height="28" viewBox="1685 780.0 340 28"><rect x="1690.9" y="791.85" width="316.2" height="4.3" rx="2.15" fill="#d8dff2"/><circle cx="1709.6" cy="794.0" r="5.6" fill="#d3daf0"/><circle cx="1752.1" cy="794.0" r="5.6" fill="#d3daf0"/><circle cx="1794.6" cy="794.0" r="5.6" fill="#d3daf0"/><circle cx="1837.1" cy="794.0" r="5.6" fill="#d3daf0"/><circle cx="1879.6" cy="794.0" r="5.6" fill="#d3daf0"/><circle cx="1922.1" cy="794.0" r="5.6" fill="#d3daf0"/><circle cx="1964.6" cy="794.0" r="5.6" fill="#d3daf0"/><circle cx="2007.1" cy="794.0" r="5.6" fill="#d3daf0"/><circle cx="2007.1" cy="794.0" r="11.2" fill="#12b8ee"/><circle cx="2007.1" cy="794.0" r="2.9" fill="#fff"/></svg><span class="t" style="left:1709.6px;top:758.6px;font-size:14px;color:#33353f;transform:translateX(-50%);">2</span><span class="t" style="left:1752.1px;top:758.6px;font-size:14px;color:#33353f;transform:translateX(-50%);">3</span><span class="t" style="left:1794.6px;top:758.6px;font-size:14px;color:#33353f;transform:translateX(-50%);">4</span><span class="t" style="left:1837.1px;top:758.6px;font-size:14px;color:#33353f;transform:translateX(-50%);">6</span><span class="t" style="left:1879.6px;top:758.6px;font-size:14px;color:#33353f;transform:translateX(-50%);">8</span><span class="t" style="left:1922.1px;top:758.6px;font-size:14px;color:#33353f;transform:translateX(-50%);">10</span><span class="t" style="left:1964.6px;top:758.6px;font-size:14px;color:#33353f;transform:translateX(-50%);">12</span><span class="t" style="left:2007.1px;top:758.6px;font-size:14px;color:#33353f;transform:translateX(-50%);">15</span>
<div style="position:absolute;left:1888.9px;top:828.7px;width:138.4px;height:47.3px;border:1px solid #e4e6ef;border-radius:4px;background:linear-gradient(#fbfbfd,#f1f2f7);box-shadow:0 1px 1px rgba(0,0,0,.04);"></div>
<span class="t" style="left:1958.1px;top:845.1px;font-size:14.6px;color:#8a8a8d;transform:translateX(-50%);">Reset</span>
</body></html>
